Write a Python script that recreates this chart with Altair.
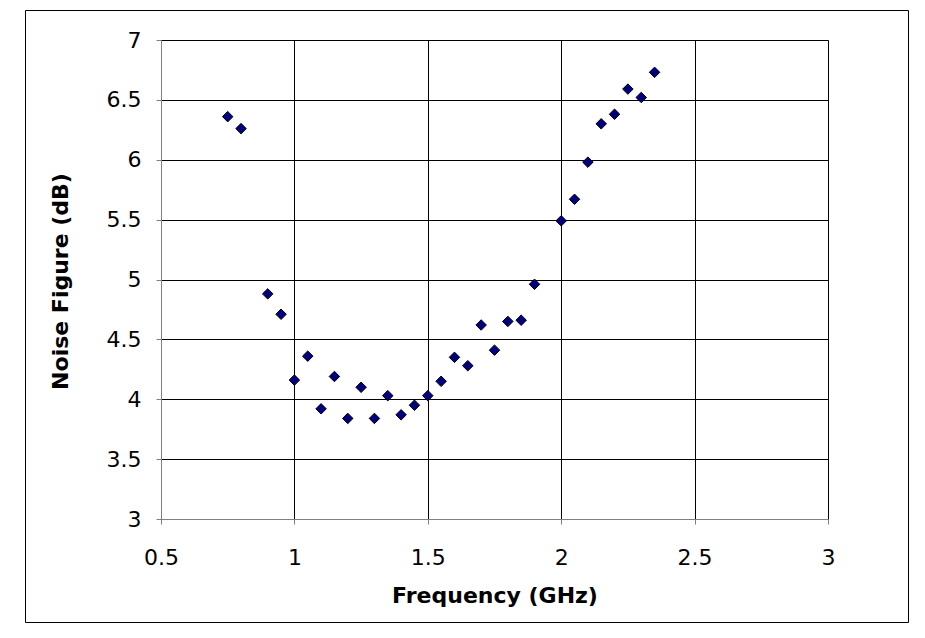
import altair as alt
import pandas as pd

freq_ghz = [0.75, 0.80, 0.90, 0.95, 1.00, 1.05, 1.10, 1.15, 1.20, 1.25, 1.30,
            1.35, 1.40, 1.45, 1.50, 1.55, 1.60, 1.65, 1.70, 1.75, 1.80, 1.85,
            1.90, 2.00, 2.05, 2.10, 2.15, 2.20, 2.25, 2.30, 2.35]
noise_db = [6.36, 6.26, 4.88, 4.71, 4.16, 4.36, 3.92, 4.19, 3.84, 4.10, 3.84,
            4.03, 3.87, 3.95, 4.03, 4.15, 4.35, 4.28, 4.62, 4.41, 4.65, 4.66,
            4.96, 5.49, 5.67, 5.98, 6.30, 6.38, 6.59, 6.52, 6.73]
x_ticks = [0.5, 1.0, 1.5, 2.0, 2.5, 3.0]
y_ticks = [3.0, 3.5, 4.0, 4.5, 5.0, 5.5, 6.0, 6.5, 7.0]

df = pd.DataFrame({"f": freq_ghz, "nf": noise_db})

FONT = "DejaVu Sans"

x_axis = alt.Axis(
    values=x_ticks, format="~g", title="Frequency (GHz)",
    grid=True, gridColor="black", gridWidth=1, gridOpacity=1,
    domainColor="#808080", tickColor="#808080", tickSize=5,
    labelFont=FONT, labelFontSize=22, labelColor="black", labelPadding=23,
    labelFlush=False, labelOverlap=False,
    titleFont=FONT, titleFontSize=22, titleFontWeight="bold", titleColor="black",
    titleBaseline="alphabetic", titleY=83,
)
y_axis = alt.Axis(
    values=y_ticks, format="~g", title="Noise Figure (dB)",
    grid=True, gridColor="black", gridWidth=1, gridOpacity=1,
    domainColor="#808080", tickColor="#808080", tickSize=5,
    labelFont=FONT, labelFontSize=22, labelColor="black", labelPadding=15,
    labelFlush=False, labelOverlap=False,
    titleFont=FONT, titleFontSize=22, titleFontWeight="bold", titleColor="black",
    titleAngle=270, titleBaseline="alphabetic", titleAlign="center",
    titleX=-94, titleY=241,
)

points = alt.Chart(df).mark_point(
    shape="diamond", size=110, filled=True, fill="#000080",
    stroke="black", strokeWidth=1, opacity=1,
).encode(
    x=alt.X("f:Q", scale=alt.Scale(domain=[0.5, 3.0], nice=False, zero=False), axis=x_axis),
    y=alt.Y("nf:Q", scale=alt.Scale(domain=[3.0, 7.0], nice=False, zero=False), axis=y_axis),
)

frame = alt.Chart(pd.DataFrame({"a": [0]})).mark_rect(
    fill=None, stroke="black", strokeWidth=1, clip=False,
).encode(
    x=alt.value(-135.5), x2=alt.value(747.5),
    y=alt.value(-29.5), y2=alt.value(582.5),
)

chart = alt.layer(frame, points).properties(
    width=667, height=479,
    autosize=alt.AutoSizeParams(type="none"),
    padding={"left": 161, "top": 40, "right": 97, "bottom": 119},
    background="white",
).configure_view(stroke="#808080", strokeWidth=1)

chart.save("out.html", embed_options={"renderer": "svg", "actions": False})
